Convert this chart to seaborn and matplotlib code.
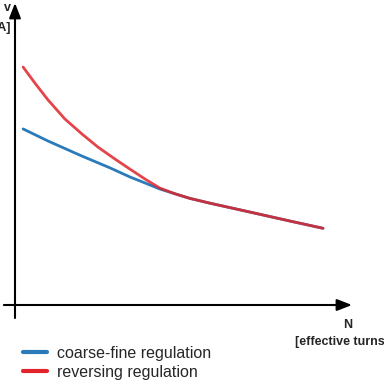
import matplotlib
matplotlib.use("Agg")
import matplotlib.pyplot as plt
import seaborn as sns
import pandas as pd

sns.set_style("white")
plt.rcParams['font.family'] = ['Liberation Sans', 'DejaVu Sans']

# values (arbitrary units)
n_blue = [0.24, 0.98, 1.99, 2.82, 3.41, 3.86, 4.30, 5.19, 5.79, 6.68, 8.16, 9.14]
v_blue = [5.83, 5.43, 4.93, 4.54, 4.24, 4.04, 3.84, 3.53, 3.37, 3.15, 2.78, 2.54]
n_red = [0.24, 0.59, 0.98, 1.48, 1.99, 2.46, 2.97, 3.41, 3.86, 4.30, 4.75, 5.19,
         5.79, 6.68, 8.16, 9.14]
v_red = [7.88, 7.35, 6.79, 6.16, 5.66, 5.23, 4.83, 4.50, 4.17, 3.87, 3.68, 3.53,
         3.37, 3.15, 2.78, 2.54]

df = pd.concat([
    pd.DataFrame({"N": n_blue, "v": v_blue, "series": "coarse-fine regulation"}),
    pd.DataFrame({"N": n_red, "v": v_red, "series": "reversing regulation"}),
])

fig = plt.figure(figsize=(3.84, 3.84), dpi=100)
ax = fig.add_axes([15 / 384, 79 / 384, 337 / 384, 302 / 384])
palette = {"coarse-fine regulation": "#2b7bba", "reversing regulation": "#e0242a"}
sns.lineplot(data=df, x="N", y="v", hue="series", palette=palette, ax=ax,
             linewidth=2, sort=False, legend=False)
for ln in ax.lines:
    ln.set_solid_joinstyle("round")
ax.lines[1].set_alpha(0.85)

ax.set_xlim(0, 10)
ax.set_ylim(0, 10)
ax.set_xticks([])
ax.set_yticks([])
ax.set_xlabel("")
ax.set_ylabel("")
for s in ax.spines.values():
    s.set_visible(False)

# axis arrows
arrow = dict(arrowstyle="-|>,head_length=0.9,head_width=0.35", color="black", lw=1.5,
             shrinkA=0, shrinkB=0)
ax.annotate("", xy=(1.0, 0), xytext=(-0.033, 0), xycoords="axes fraction",
            arrowprops=arrow, annotation_clip=False)
ax.annotate("", xy=(0, 1.0), xytext=(0, -0.043), xycoords="axes fraction",
            arrowprops=arrow, annotation_clip=False)

fig.text(11 / 384, 1 - 8 / 384, "v", ha="right", va="center", fontsize=9, fontweight="bold")
fig.text(11 / 384, 1 - 28 / 384, "[A]", ha="right", va="center", fontsize=9, fontweight="bold")
fig.text(348 / 384, 1 - 325 / 384, "N", ha="center", va="center", fontsize=9, fontweight="bold")
fig.text(295 / 384, 1 - 342 / 384, "[effective turns]", ha="left", va="center",
         fontsize=9, fontweight="bold")

handles = [plt.Line2D([], [], color=palette[k], lw=3) for k in palette]
fig.legend(handles, list(palette), loc="lower left", bbox_to_anchor=(12 / 384, -7 / 384),
           frameon=False, fontsize=11.5, handlelength=1.5, handletextpad=0.6,
           labelspacing=0.25, borderpad=0.2)

fig.savefig("out.png", dpi=100)
